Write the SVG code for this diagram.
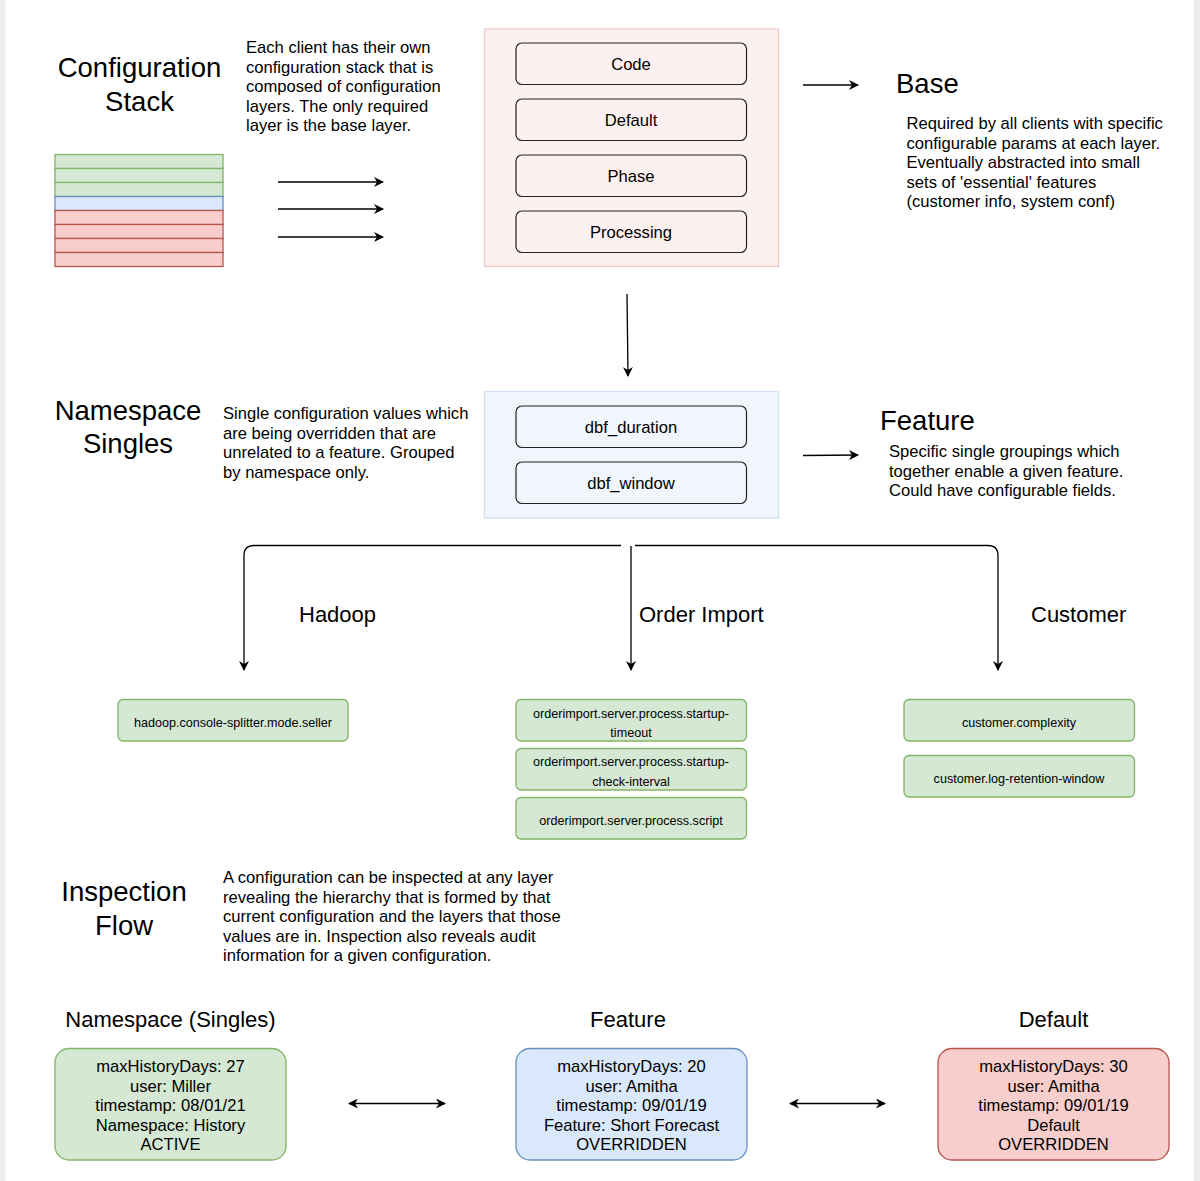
<svg xmlns="http://www.w3.org/2000/svg" width="1200" height="1181" viewBox="0 0 1200 1181">
<defs>
<marker id="arr" viewBox="0 0 10 10" refX="9" refY="5" markerWidth="11" markerHeight="10" markerUnits="userSpaceOnUse" orient="auto-start-reverse">
<path d="M0,0 L10,5 L0,10 L3,5 z" fill="#000"/>
</marker>
<style>
text{font-family:"Liberation Sans",Arial,Helvetica,sans-serif;fill:#000}
.title{font-size:27.5px;text-anchor:middle}
.head{font-size:22px}
.desc{font-size:16.6px}
.lbl{font-size:16.6px;text-anchor:middle}
.small{font-size:12.6px;text-anchor:middle}
.layer{fill:none;stroke:#222;stroke-width:1.2}
.g{fill:#d5e8d4;stroke:#82b366;stroke-width:1.3}
.b{fill:#dae8fc;stroke:#6c8ebf;stroke-width:1.3}
.r{fill:#f8cecc;stroke:#b85450;stroke-width:1.3}
.conn{fill:none;stroke:#000;stroke-width:1.3}
</style>
</defs>
<rect x="0" y="0" width="1200" height="1181" fill="#fff"/>
<rect x="0" y="0" width="5.5" height="1181" fill="#ececec"/>
<rect x="1194" y="0" width="6" height="1181" fill="#ececec"/>

<g id="config-stack-title">
<text class="title" x="139.5" y="77">Configuration</text>
<text class="title" x="139.5" y="110.5">Stack</text>
</g>
<g id="config-stack-desc">
<text class="desc" x="246" y="53">Each client has their own</text>
<text class="desc" x="246" y="72.5">configuration stack that is</text>
<text class="desc" x="246" y="92">composed of configuration</text>
<text class="desc" x="246" y="111.5">layers. The only required</text>
<text class="desc" x="246" y="131">layer is the base layer.</text>
</g>
<g id="stack-layers">
<rect class="g" x="55" y="154.5" width="168" height="14"/>
<rect class="g" x="55" y="168.5" width="168" height="14"/>
<rect class="g" x="55" y="182.5" width="168" height="14"/>
<rect class="b" x="55" y="196.5" width="168" height="14"/>
<rect class="r" x="55" y="210.5" width="168" height="14"/>
<rect class="r" x="55" y="224.5" width="168" height="14"/>
<rect class="r" x="55" y="238.5" width="168" height="14"/>
<rect class="r" x="55" y="252.5" width="168" height="14"/>
</g>

<g id="base-container">
<rect x="484.5" y="29" width="294" height="237.5" fill="#fdf0f0" stroke="#f3c9c7" stroke-width="1.3"/>
</g>
<g id="layer-code"><rect class="layer" x="516" y="43" width="230.5" height="41.5" rx="6"/><text class="lbl" x="631" y="70">Code</text></g>
<g id="layer-default"><rect class="layer" x="516" y="99" width="230.5" height="41.5" rx="6"/><text class="lbl" x="631" y="126">Default</text></g>
<g id="layer-phase"><rect class="layer" x="516" y="155" width="230.5" height="41.5" rx="6"/><text class="lbl" x="631" y="182">Phase</text></g>
<g id="layer-processing"><rect class="layer" x="516" y="211" width="230.5" height="41.5" rx="6"/><text class="lbl" x="631" y="238">Processing</text></g>

<g id="base-label">
<text class="title" x="896" y="93" style="text-anchor:start">Base</text>
<text class="desc" x="906.5" y="129">Required by all clients with specific</text>
<text class="desc" x="906.5" y="148.5">configurable params at each layer.</text>
<text class="desc" x="906.5" y="168">Eventually abstracted into small</text>
<text class="desc" x="906.5" y="187.5">sets of 'essential' features</text>
<text class="desc" x="906.5" y="207">(customer info, system conf)</text>
</g>

<g id="namespace-title">
<text class="title" x="128" y="419.5">Namespace</text>
<text class="title" x="128" y="453">Singles</text>
</g>
<g id="namespace-desc">
<text class="desc" x="223" y="419">Single configuration values which</text>
<text class="desc" x="223" y="438.5">are being overridden that are</text>
<text class="desc" x="223" y="458">unrelated to a feature. Grouped</text>
<text class="desc" x="223" y="477.5">by namespace only.</text>
</g>
<g id="namespace-container">
<rect x="484.5" y="391.5" width="294" height="126.5" fill="#f1f6fd" stroke="#d3e0f2" stroke-width="1.3"/>
</g>
<g id="dbf-duration"><rect class="layer" x="516" y="406" width="230.5" height="41.5" rx="6"/><text class="lbl" x="631" y="433">dbf_duration</text></g>
<g id="dbf-window"><rect class="layer" x="516" y="462" width="230.5" height="41.5" rx="6"/><text class="lbl" x="631" y="489">dbf_window</text></g>

<g id="feature-label">
<text class="title" x="880" y="429.5" style="text-anchor:start">Feature</text>
<text class="desc" x="889" y="457">Specific single groupings which</text>
<text class="desc" x="889" y="476.5">together enable a given feature.</text>
<text class="desc" x="889" y="496">Could have configurable fields.</text>
</g>

<g id="branch-labels">
<text class="head" x="299" y="622">Hadoop</text>
<text class="head" x="639" y="622">Order Import</text>
<text class="head" x="1031" y="622">Customer</text>
</g>

<g id="hadoop-1"><rect class="g" x="118" y="699.5" width="230" height="41.5" rx="5"/><text class="small" x="233" y="727">hadoop.console-splitter.mode.seller</text></g>
<g id="orderimport-1"><rect class="g" x="516" y="699.5" width="230.5" height="41.5" rx="5"/><text class="small" x="631" y="718">orderimport.server.process.startup-</text><text class="small" x="631" y="737">timeout</text></g>
<g id="orderimport-2"><rect class="g" x="516" y="748.5" width="230.5" height="41.5" rx="5"/><text class="small" x="631" y="766">orderimport.server.process.startup-</text><text class="small" x="631" y="786">check-interval</text></g>
<g id="orderimport-3"><rect class="g" x="516" y="797.5" width="230.5" height="41.5" rx="5"/><text class="small" x="631" y="825">orderimport.server.process.script</text></g>
<g id="customer-1"><rect class="g" x="904" y="699.5" width="230.5" height="41.5" rx="5"/><text class="small" x="1019" y="727">customer.complexity</text></g>
<g id="customer-2"><rect class="g" x="904" y="755.5" width="230.5" height="41.5" rx="5"/><text class="small" x="1019" y="783">customer.log-retention-window</text></g>

<g id="inspection-title">
<text class="title" x="124" y="901">Inspection</text>
<text class="title" x="124" y="935">Flow</text>
</g>
<g id="inspection-desc">
<text class="desc" x="223" y="883">A configuration can be inspected at any layer</text>
<text class="desc" x="223" y="902.5">revealing the hierarchy that is formed by that</text>
<text class="desc" x="223" y="922">current configuration and the layers that those</text>
<text class="desc" x="223" y="941.5">values are in. Inspection also reveals audit</text>
<text class="desc" x="223" y="961">information for a given configuration.</text>
</g>

<g id="inspect-namespace">
<text class="head" x="170.5" y="1027" style="text-anchor:middle">Namespace (Singles)</text>
<rect class="g" x="55" y="1048.5" width="231" height="111.5" rx="14"/>
<text class="lbl" x="170.5" y="1072">maxHistoryDays: 27</text>
<text class="lbl" x="170.5" y="1091.5">user: Miller</text>
<text class="lbl" x="170.5" y="1111">timestamp: 08/01/21</text>
<text class="lbl" x="170.5" y="1130.5">Namespace: History</text>
<text class="lbl" x="170.5" y="1150">ACTIVE</text>
</g>
<g id="inspect-feature">
<text class="head" x="628" y="1027" style="text-anchor:middle">Feature</text>
<rect class="b" x="516" y="1048.5" width="231" height="111.5" rx="14"/>
<text class="lbl" x="631.5" y="1072">maxHistoryDays: 20</text>
<text class="lbl" x="631.5" y="1091.5">user: Amitha</text>
<text class="lbl" x="631.5" y="1111">timestamp: 09/01/19</text>
<text class="lbl" x="631.5" y="1130.5">Feature: Short Forecast</text>
<text class="lbl" x="631.5" y="1150">OVERRIDDEN</text>
</g>
<g id="inspect-default">
<text class="head" x="1053.5" y="1027" style="text-anchor:middle">Default</text>
<rect class="r" x="938" y="1048.5" width="231" height="111.5" rx="14"/>
<text class="lbl" x="1053.5" y="1072">maxHistoryDays: 30</text>
<text class="lbl" x="1053.5" y="1091.5">user: Amitha</text>
<text class="lbl" x="1053.5" y="1111">timestamp: 09/01/19</text>
<text class="lbl" x="1053.5" y="1130.5">Default</text>
<text class="lbl" x="1053.5" y="1150">OVERRIDDEN</text>
</g>

<g id="connectors">
<line class="conn" x1="278" y1="182" x2="383" y2="182" marker-end="url(#arr)"/>
<line class="conn" x1="278" y1="209" x2="383" y2="209" marker-end="url(#arr)"/>
<line class="conn" x1="278" y1="237" x2="383" y2="237" marker-end="url(#arr)"/>
<line class="conn" x1="803" y1="85" x2="858" y2="85" marker-end="url(#arr)"/>
<line class="conn" x1="627" y1="294" x2="628" y2="376" marker-end="url(#arr)"/>
<line class="conn" x1="803" y1="455.5" x2="858" y2="455" marker-end="url(#arr)"/>
<path class="conn" d="M621,545.5 L254,545.5 Q244,545.5 244,555.5 L244,670" marker-end="url(#arr)"/>
<path class="conn" d="M631,546 L631,670" marker-end="url(#arr)"/>
<path class="conn" d="M635,545.5 L988,545.5 Q998,545.5 998,555.5 L998,670" marker-end="url(#arr)"/>
<line class="conn" x1="349" y1="1103.5" x2="445" y2="1103.5" marker-start="url(#arr)" marker-end="url(#arr)"/>
<line class="conn" x1="790" y1="1103.5" x2="885" y2="1103.5" marker-start="url(#arr)" marker-end="url(#arr)"/>
</g>
</svg>
